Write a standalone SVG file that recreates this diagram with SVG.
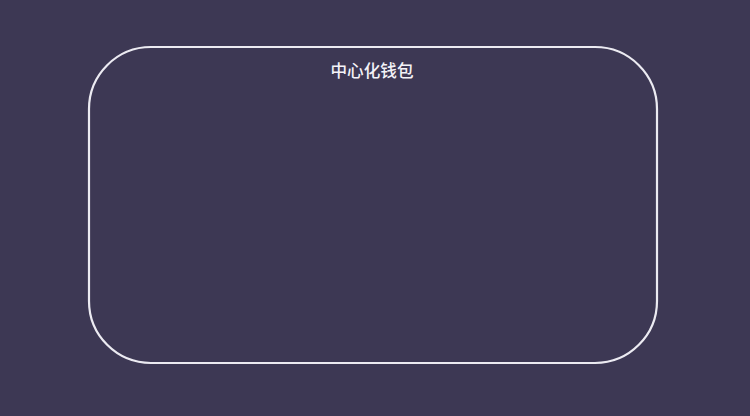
<svg xmlns="http://www.w3.org/2000/svg" width="750" height="416" viewBox="0 0 750 416">
<style>
.frame{fill:none;stroke:#ecebf2;stroke-width:2.2}
.label{font-family:"Noto Sans CJK SC","Noto Sans",sans-serif;font-size:16.6px;font-weight:500;fill:#f4f3f8;text-anchor:middle}
</style>
<rect width="750" height="416" fill="#3d3854"/>
<g id="centralized-wallet">
<rect class="frame" x="89" y="47" width="568" height="316" rx="62" ry="62"/>
<text class="label" x="372" y="77">中心化钱包</text>
</g>
<g id="connectors"></g>
</svg>
